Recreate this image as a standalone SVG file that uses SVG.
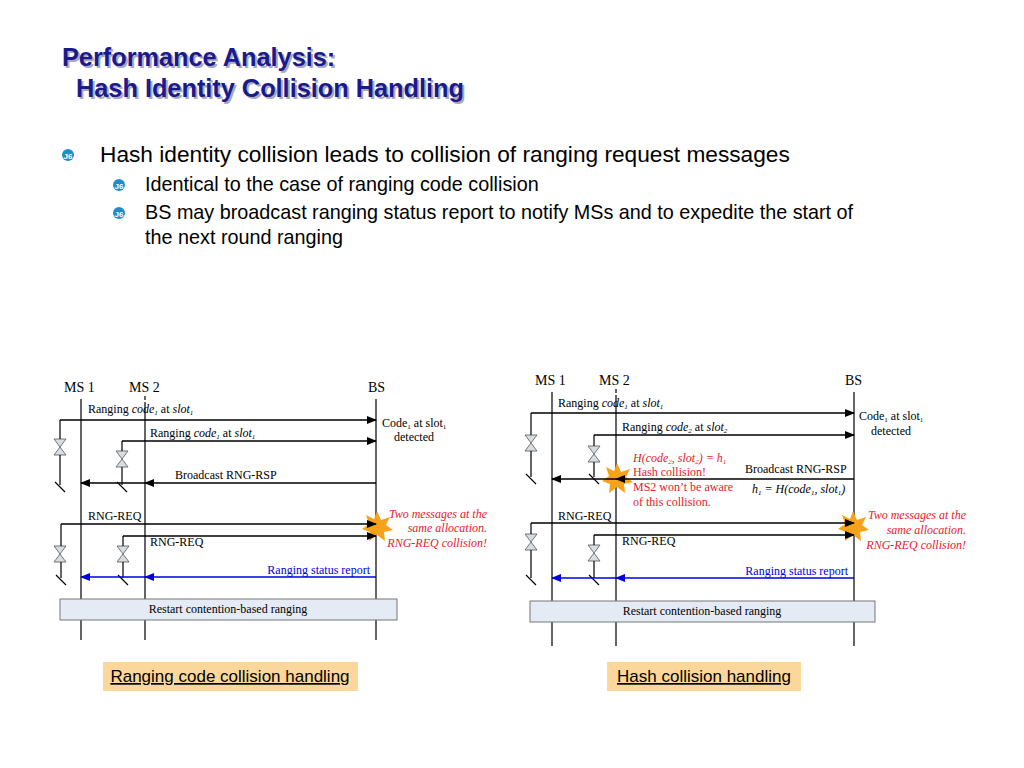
<svg xmlns="http://www.w3.org/2000/svg" width="1024" height="768" viewBox="0 0 1024 768">
<defs>
<marker id="ab" markerWidth="10" markerHeight="8" refX="9" refY="4" orient="auto" markerUnits="userSpaceOnUse"><path d="M0,0 L10,4 L0,8 z" fill="#000"/></marker>
<marker id="au" markerWidth="10" markerHeight="8" refX="9" refY="4" orient="auto" markerUnits="userSpaceOnUse"><path d="M0,0 L10,4 L0,8 z" fill="#0000e0"/></marker>
<g id="hg"><path d="M-6,-8 L6,-8 L0,0 z M-6,8 L6,8 L0,0 z" fill="#d8dde2" stroke="#555" stroke-width="0.8"/></g>
<g id="star"><polygon points="0,-16 4,-7 13,-10 9,-2 16,3 7,5 8,14 0,8 -8,14 -7,5 -15,2 -8,-3 -11,-12 -3,-8" fill="#f7a21b"/></g>
<g id="bul"><circle r="6" fill="#1a8fc9"/><text x="0" y="3.5" font-size="8" font-weight="bold" fill="#fff" text-anchor="middle" font-family="Liberation Sans, sans-serif">J6</text></g>
</defs>
<style>
.t{font-family:"Liberation Serif",serif;font-size:12px;fill:#000}
.h{font-family:"Liberation Serif",serif;font-size:14px;fill:#000}
.r{font-family:"Liberation Serif",serif;font-size:12px;font-style:italic;fill:#e8192c}
.rn{font-family:"Liberation Serif",serif;font-size:12px;fill:#e8192c}
.b{font-family:"Liberation Serif",serif;font-size:12px;fill:#0000e0}
.l{stroke:#000;stroke-width:1.2;fill:none}
.m{stroke:#000;stroke-width:1.3;fill:none;marker-end:url(#ab)}
.mb{stroke:#0000e0;stroke-width:1.5;fill:none;marker-end:url(#au)}
.box{fill:#e4ebf5;stroke:#777;stroke-width:1}
.s{font-family:"Liberation Sans",Arial,sans-serif}
.cap{fill:#fbd79b}
</style>
<g id="title" class="s" font-size="25.3" font-weight="bold">
<text x="64" y="68" fill="#aab">Performance Analysis:</text>
<text x="62" y="66" fill="#1a1a8c">Performance Analysis:</text>
<text x="78" y="99" fill="#aab">Hash Identity Collision Handling</text>
<text x="76" y="97" fill="#1a1a8c">Hash Identity Collision Handling</text>
</g>
<g id="bullets" class="s">
<use href="#bul" x="68" y="155"/>
<text x="100" y="162" font-size="22.7">Hash identity collision leads to collision of ranging request messages</text>
<use href="#bul" x="119" y="185"/>
<text x="145" y="191" font-size="19.8">Identical to the case of ranging code collision</text>
<use href="#bul" x="119" y="213"/>
<text x="145" y="219" font-size="19.8">BS may broadcast ranging status report to notify MSs and to expedite the start of</text>
<text x="145" y="244" font-size="19.8">the next round ranging</text>
</g>
<g id="left">
<text class="h" x="64" y="392">MS 1</text><text class="h" x="129" y="392">MS 2</text><text class="h" x="368" y="392">BS</text>
<path class="l" d="M81,399 V640 M145,402 V640 M376,399 V640 M145,396 V400"/>
<rect class="box" x="60" y="599" width="337" height="21"/>
<text class="t" x="228" y="613" text-anchor="middle" font-size="13">Restart contention-based ranging</text>
<text class="t" x="88" y="413">Ranging <tspan font-style="italic">code</tspan><tspan font-size="7" dy="2" font-style="italic">1</tspan><tspan dy="-2"> at </tspan><tspan font-style="italic">slot</tspan><tspan font-size="7" dy="2" font-style="italic">1</tspan></text>
<text class="t" x="150" y="437">Ranging <tspan font-style="italic">code</tspan><tspan font-size="7" dy="2" font-style="italic">1</tspan><tspan dy="-2"> at </tspan><tspan font-style="italic">slot</tspan><tspan font-size="7" dy="2" font-style="italic">1</tspan></text>
<text class="t" x="382" y="427">Code<tspan font-size="7" dy="2">1</tspan><tspan dy="-2"> at slot</tspan><tspan font-size="7" dy="2">1</tspan></text>
<text class="t" x="394" y="441">detected</text>
<text class="t" x="175" y="479">Broadcast RNG-RSP</text>
<text class="t" x="88" y="520">RNG-REQ</text>
<text class="t" x="150" y="546">RNG-REQ</text>
<text class="b" x="370" y="574" text-anchor="end">Ranging status report</text>
<use href="#star" x="377" y="527"/>
<text class="r" x="487" y="518" text-anchor="end">Two messages at the</text>
<text class="r" x="487" y="532" text-anchor="end">same allocation.</text>
<text class="r" x="487" y="547" text-anchor="end">RNG-REQ collision!</text>
<use href="#hg" x="60" y="447"/><use href="#hg" x="122" y="459"/>
<use href="#hg" x="60" y="554"/><use href="#hg" x="123" y="554"/>
<path class="l" d="M60,420 V439 M60,455 V485 M55,482 L65,492 M122,441 V451 M122,467 V485 M117,482 L127,492 M61,524 V546 M61,562 V578 M56,575 L66,585 M123,536 V546 M123,562 V578 M118,575 L128,585"/>
</g>
<g id="right">
<text class="h" x="535" y="385">MS 1</text><text class="h" x="599" y="385">MS 2</text><text class="h" x="845" y="385">BS</text>
<path class="l" d="M552,392 V646 M616,395 V646 M854,392 V646 M616,389 V393"/>
<rect class="box" x="530" y="601" width="345" height="21"/>
<text class="t" x="702" y="615" text-anchor="middle" font-size="13">Restart contention-based ranging</text>
<text class="t" x="558" y="407">Ranging <tspan font-style="italic">code</tspan><tspan font-size="7" dy="2" font-style="italic">1</tspan><tspan dy="-2"> at </tspan><tspan font-style="italic">slot</tspan><tspan font-size="7" dy="2" font-style="italic">1</tspan></text>
<text class="t" x="622" y="431">Ranging <tspan font-style="italic">code</tspan><tspan font-size="7" dy="2" font-style="italic">2</tspan><tspan dy="-2"> at </tspan><tspan font-style="italic">slot</tspan><tspan font-size="7" dy="2" font-style="italic">2</tspan></text>
<text class="t" x="859" y="420">Code<tspan font-size="7" dy="2">1</tspan><tspan dy="-2"> at slot</tspan><tspan font-size="7" dy="2">1</tspan></text>
<text class="t" x="871" y="435">detected</text>
<text class="t" x="745" y="473">Broadcast RNG-RSP</text>
<text class="t" x="752" y="493" font-style="italic">h<tspan font-size="7" dy="2">1</tspan><tspan dy="-2"> = H(code</tspan><tspan font-size="7" dy="2">1</tspan><tspan dy="-2">, slot</tspan><tspan font-size="7" dy="2">1</tspan><tspan dy="-2">)</tspan></text>
<text class="r" x="633" y="462">H(code<tspan font-size="7" dy="2">2</tspan><tspan dy="-2">, slot</tspan><tspan font-size="7" dy="2">2</tspan><tspan dy="-2">) = h</tspan><tspan font-size="7" dy="2">1</tspan></text>
<text class="rn" x="633" y="476">Hash collision!</text>
<text class="rn" x="633" y="491">MS2 won’t be aware</text>
<text class="rn" x="633" y="506">of this collision.</text>
<text class="t" x="558" y="520">RNG-REQ</text>
<text class="t" x="622" y="545">RNG-REQ</text>
<text class="b" x="848" y="575" text-anchor="end">Ranging status report</text>
<use href="#star" x="617" y="479"/>
<use href="#star" x="853" y="527"/>
<text class="r" x="966" y="519" text-anchor="end">Two messages at the</text>
<text class="r" x="966" y="534" text-anchor="end">same allocation.</text>
<text class="r" x="966" y="549" text-anchor="end">RNG-REQ collision!</text>
<use href="#hg" x="531" y="443"/><use href="#hg" x="594" y="454"/>
<use href="#hg" x="531" y="542"/><use href="#hg" x="594" y="553"/>
<path class="l" d="M531,413 V435 M531,451 V477 M526,474 L536,484 M594,435 V446 M594,462 V477 M589,474 L599,484 M531,523 V534 M531,550 V578 M526,575 L536,585 M594,535 V545 M594,561 V578 M589,575 L599,585"/>
</g>
<g id="connectors">
<path class="m" d="M60,420 H376"/><path class="m" d="M122,441 H376"/>
<path class="m" d="M376,483 H145"/><path class="m" d="M145,483 H81"/>
<path class="m" d="M61,524 H376"/><path class="m" d="M123,536 H376"/>
<path class="mb" d="M376,577 H145"/><path class="mb" d="M145,577 H81"/>
<path class="m" d="M531,413 H854"/><path class="m" d="M594,435 H854"/>
<path class="m" d="M854,479 H616"/><path class="m" d="M616,479 H552"/>
<path class="m" d="M531,523 H854"/><path class="m" d="M594,535 H854"/>
<path class="mb" d="M854,578 H616"/><path class="mb" d="M616,578 H552"/>
</g>
<g id="captions" class="s" font-size="17">
<rect class="cap" x="103" y="662" width="255" height="29"/>
<text x="230" y="682" text-anchor="middle" text-decoration="underline">Ranging code collision handling</text>
<rect class="cap" x="607" y="662" width="194" height="29"/>
<text x="704" y="682" text-anchor="middle" text-decoration="underline">Hash collision handling</text>
</g>
</svg>
